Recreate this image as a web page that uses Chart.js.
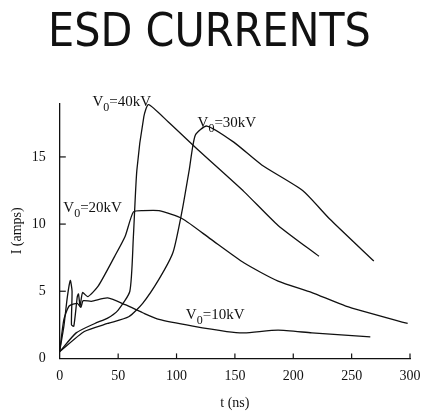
<!DOCTYPE html><html><head><script src="https://cdn.jsdelivr.net/npm/chart.js@4"></script>
<style>body{margin:0;background:#fff}#w{width:430px;height:416px}</style></head><body><div id="w"><canvas id="c"></canvas></div>
<script>
const seriesNames=["V0=40kV","V0=30kV","V0=20kV","V0=10kV"];
const t40=[0,14,30,41,50,60,63,66,72,76,93,120,158,187,222];
const i40=[0.5,1.9,2.6,3.0,3.6,5.0,9.0,14.0,18.0,18.9,17.6,15.4,12.4,9.9,7.6];
const t30=[0,21,41,59,71,85,97,105,111,116,126,149,173,208,231,269];
const i30=[0.5,2,2.6,3.1,4.1,5.9,7.9,11.1,14.1,16.6,17.3,16.1,14.4,12.5,10.4,7.25];
const t20=[0,3.5,6.5,9,10.5,10,12,15,16,17.4,19.5,24,33,47,56,63,71,85,105,129,158,187,216,245,298];
const i20=[0.6,2.4,4.6,5.8,5.0,2.5,2.4,4.6,4.8,3.9,4.9,4.6,5.4,7.6,9.1,10.9,11,11,10.4,8.9,7.1,5.75,4.9,3.9,2.6];
const t10=[0,3.5,8,15,18,20,27,41,56,71,85,114,143,158,187,216,266];
const i10=[0.6,2.9,3.9,4.1,3.8,4.3,4.25,4.5,4.0,3.4,2.9,2.4,2.0,1.9,2.1,1.9,1.6];
const xTicks=[0,50,100,150,200,250,300];
const yTicks=[0,5,10,15];
const labels=[[28,18.8],[118,17.2],[3,10.9],[108,2.9]];
const mk=(t,v)=>t.map((x,k)=>({x:x,y:v[k]}));
const F="'Liberation Serif',serif";
const ds=[mk(t40,i40),mk(t30,i30),mk(t20,i20),mk(t10,i10)].map(d=>({data:d,showLine:true,borderColor:'#111',borderWidth:1.3,pointRadius:0,tension:0.2,fill:false}));
const lab={id:'lab',afterDatasetsDraw(c){const g=c.ctx,xs=c.scales.x,ys=c.scales.y;g.save();g.fillStyle='#111';g.strokeStyle='#111';g.lineWidth=1.2;
labels.forEach((p,k)=>{let x=xs.getPixelForValue(p[0]),y=ys.getPixelForValue(p[1]);g.font='15px '+F;g.textBaseline='alphabetic';g.fillText('V',x,y);let w=g.measureText('V').width;g.font='12px '+F;g.fillText('0',x+w,y+5);let w2=g.measureText('0').width;g.font='15px '+F;g.fillText(seriesNames[k].slice(2),x+w+w2,y);});
yTicks.forEach(v=>{let y=ys.getPixelForValue(v);if(v>0){g.beginPath();g.moveTo(xs.left,y);g.lineTo(xs.left+6,y);g.stroke();}});
xTicks.forEach(v=>{let x=xs.getPixelForValue(v);if(v>0){g.beginPath();g.moveTo(x,ys.bottom);g.lineTo(x,ys.bottom-5);g.stroke();}});
g.restore();}};
new Chart(document.getElementById('c'),{type:'scatter',data:{datasets:ds},plugins:[lab],options:{animation:false,responsive:true,maintainAspectRatio:false,
layout:{padding:{left:9,right:20,top:0,bottom:0}},
plugins:{legend:{display:false},tooltip:{enabled:false},title:{display:true,text:'ESD CURRENTS',color:'#111',font:{family:"'DejaVu Sans ExtraLight','DejaVu Sans Condensed',sans-serif",size:46,weight:200},padding:{top:6,bottom:42}}},
scales:{x:{type:'linear',min:0,max:300,afterBuildTicks:a=>{a.ticks=xTicks.map(v=>({value:v}))},grid:{display:false},border:{color:'#111',width:1.3},ticks:{color:'#111',font:{family:F,size:14},padding:2},title:{display:true,text:'t (ns)',color:'#111',font:{family:F,size:14},padding:{top:8,bottom:4}}},
y:{min:0,max:19,afterBuildTicks:a=>{a.ticks=yTicks.map(v=>({value:v}))},grid:{display:false},border:{color:'#111',width:1.3},ticks:{color:'#111',font:{family:F,size:14},padding:6},title:{display:true,text:'I (amps)',color:'#111',font:{family:F,size:14},padding:{top:0,bottom:0}}}}}});
</script></body></html>
